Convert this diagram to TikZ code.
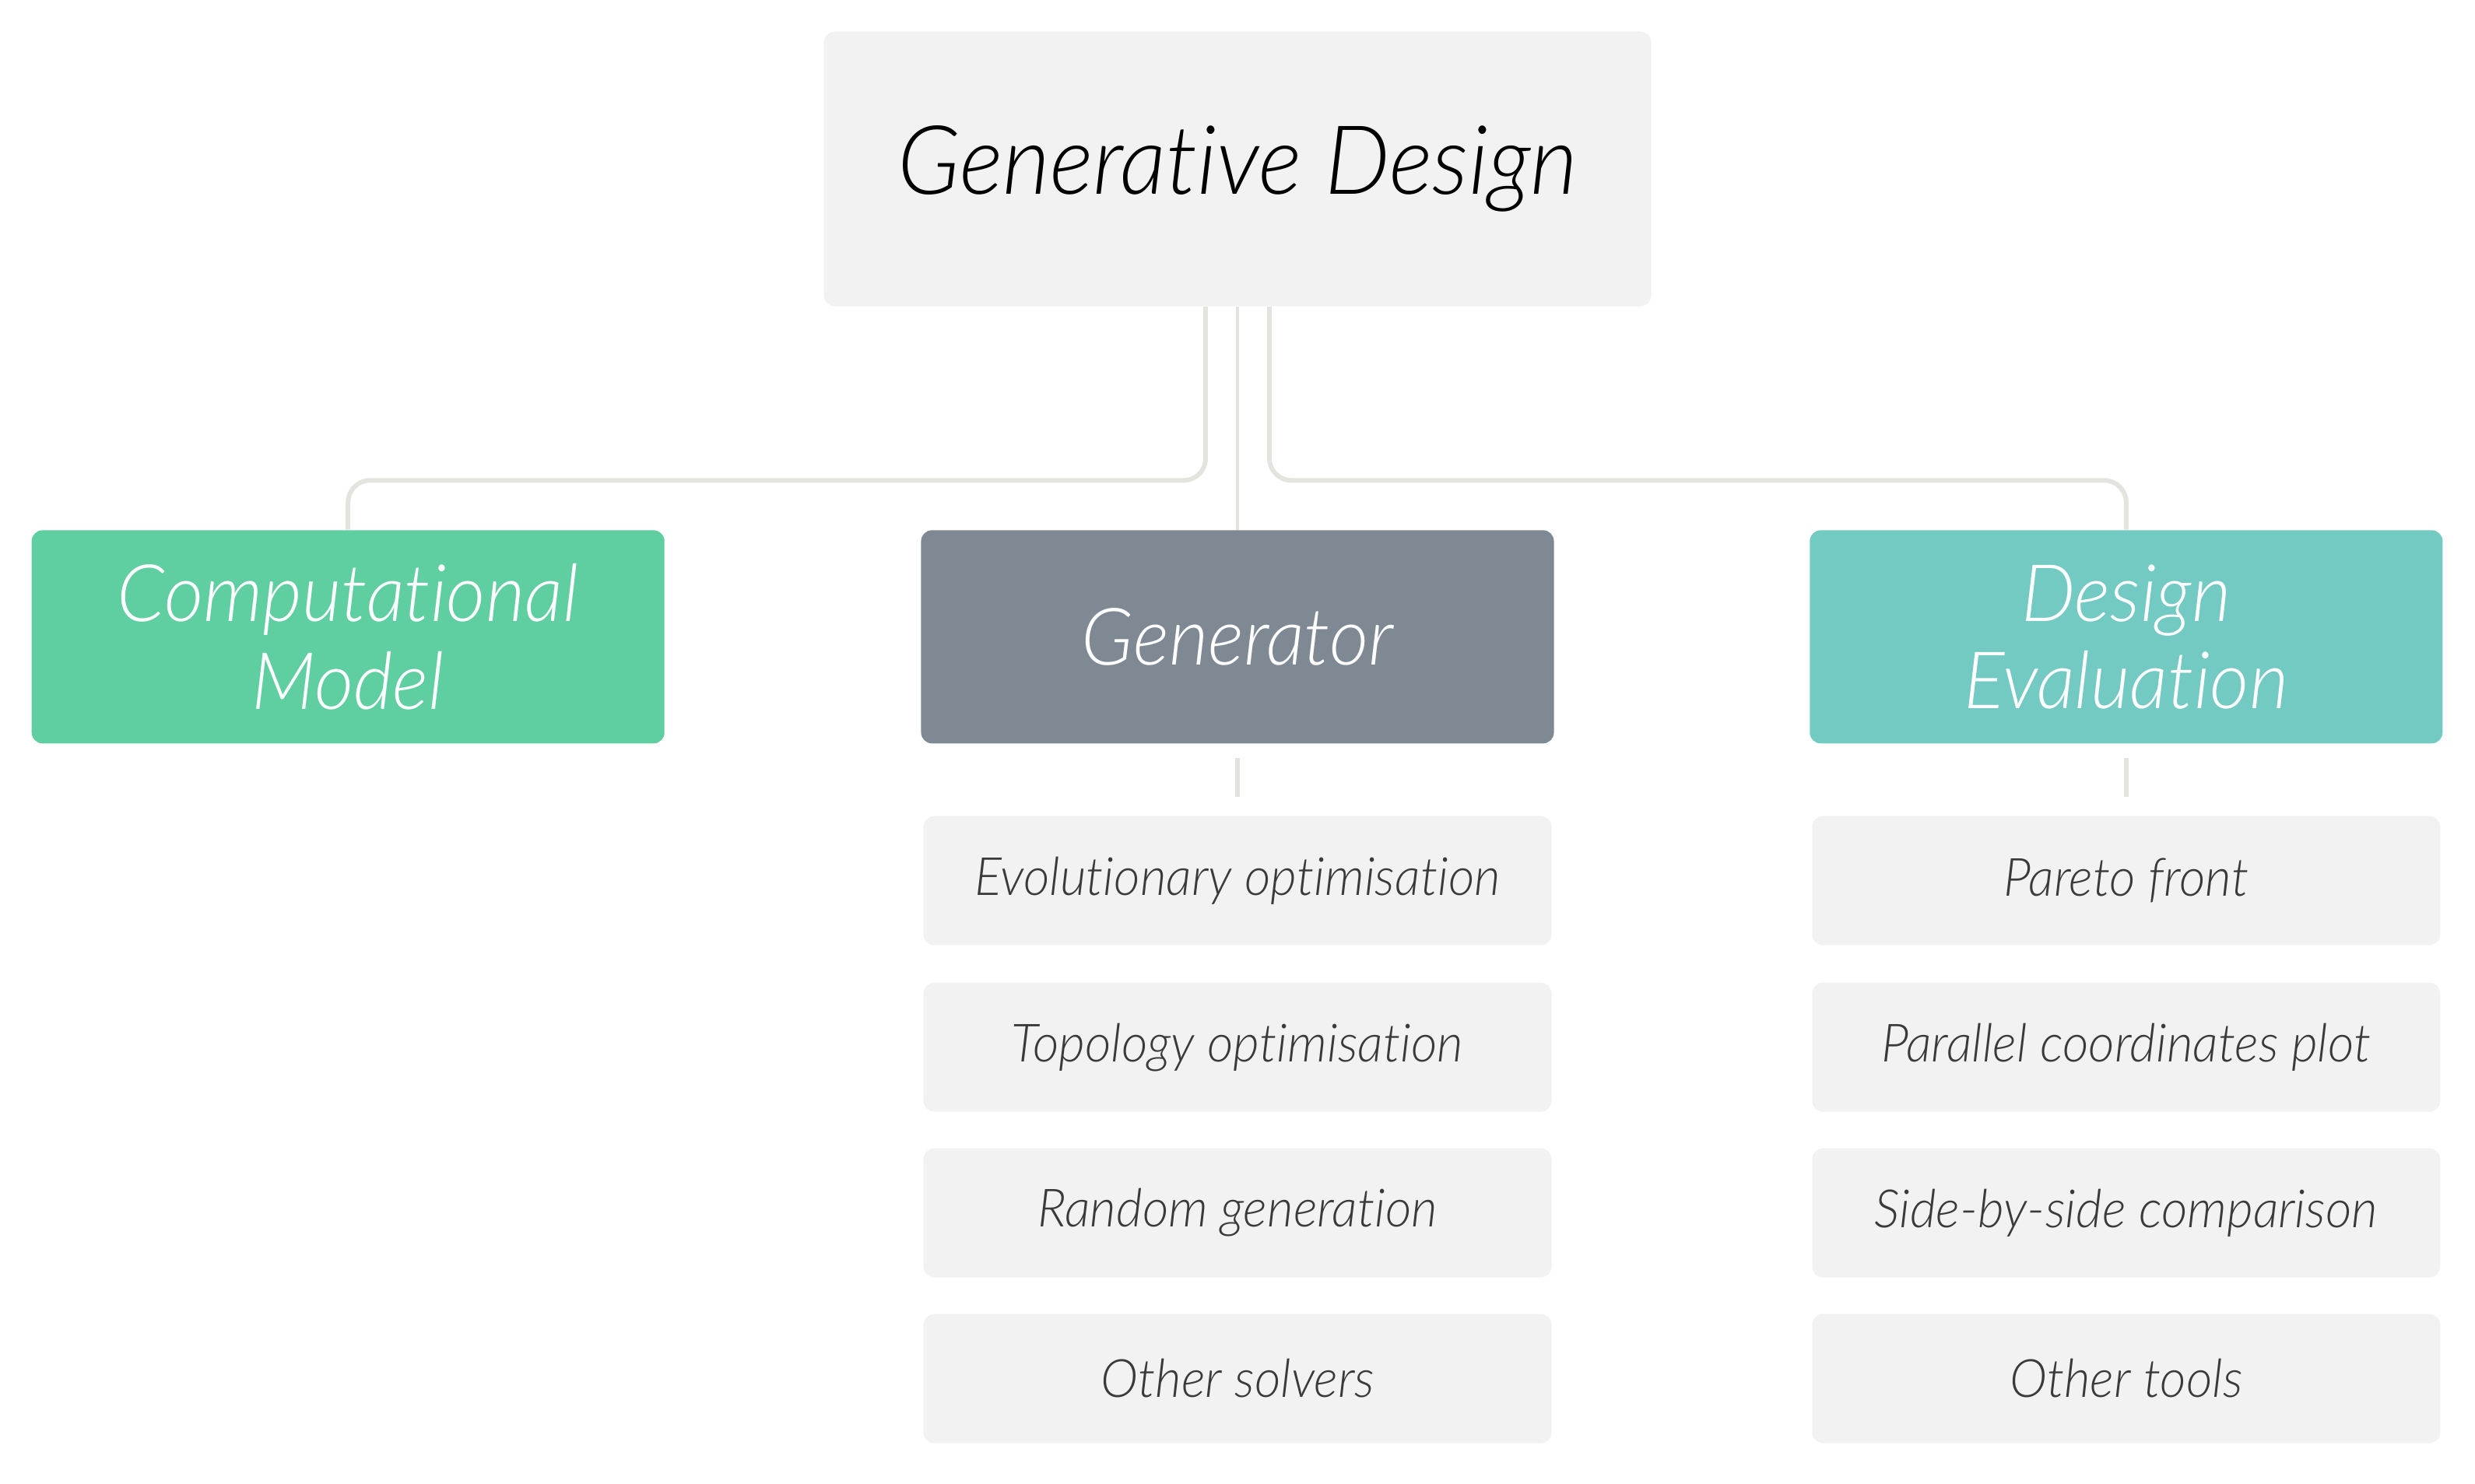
\documentclass[tikz,border=0pt]{standalone}
\usepackage{fontspec}
\setmainfont{Lato Light Italic}[FakeStretch=0.96, Ligatures=NoCommon]
\definecolor{boxgray}{HTML}{F2F2F2}
\definecolor{linegray}{HTML}{E4E4DF}
\definecolor{cmgreen}{HTML}{5FCEA1}
\definecolor{gengray}{HTML}{7F8994}
\definecolor{evteal}{HTML}{73CAC3}
\definecolor{itemtext}{HTML}{3A3A3A}
\tikzset{
  head/.style={fill=boxgray, rounded corners=4pt, minimum width=10.63cm,
    minimum height=3.53cm, font=\fontsize{35}{42}\selectfont, text=black},
  branch/.style={rounded corners=4pt, minimum width=8.13cm, minimum height=2.74cm,
    text width=7cm, align=center, text=white, font=\fontsize{29}{32}\selectfont},
  item/.style={fill=boxgray, rounded corners=4pt, minimum width=8.07cm,
    minimum height=1.66cm, text=itemtext, font=\fontsize{19.3}{23}\selectfont},
  link/.style={draw=linegray, line width=1.7pt, rounded corners=8pt},
}
\begin{document}
\begin{tikzpicture}[x=0.02028cm, y=-0.02028cm]
      \useasboundingbox (0,0) rectangle (1568,940);
      \node[head] (gd) at (784,107) {Generative Design};
      \node[branch, fill=cmgreen] (cm) at (220.5,403.5) {Computational\\Model};
      \node[branch, fill=gengray] (gen) at (784,403.5) {Generator};
      \node[branch, fill=evteal] (ev) at (1347,403.5) {Design\\Evaluation};
      \node[item] (g1) at (784,558) {Evolutionary optimisation};
      \node[item] (g2) at (784,663.5) {Topology optimisation};
      \node[item] (g3) at (784,768.5) {Random generation};
      \node[item] (g4) at (784,873.5) {Other solvers};
      \node[item] (e1) at (1347,558) {Pareto front};
      \node[item] (e2) at (1347,663.5) {Parallel coordinates plot};
      \node[item] (e3) at (1347,768.5) {Side-by-side comparison};
      \node[item] (e4) at (1347,873.5) {Other tools};
      \begin{scope}[link]
        \draw ([xshift=-0.41cm]gd.south) -- ++(0,110) -| (cm.north);
        \draw[line width=1.2pt] (gd.south) -- (gen.north);
        \draw ([xshift=0.41cm]gd.south) -- ++(0,110) -| (ev.north);
        \draw ([yshift=-0.18cm]gen.south) -- ([yshift=0.24cm]g1.north);
        \draw ([yshift=-0.18cm]ev.south) -- ([yshift=0.24cm]e1.north);
      \end{scope}
    \end{tikzpicture}
\end{document}
